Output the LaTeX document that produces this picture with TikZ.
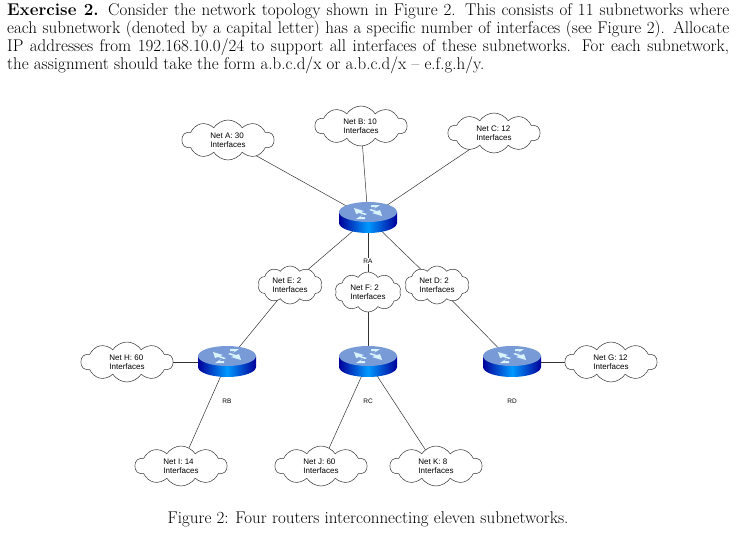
\documentclass[tikz,border=0pt]{standalone}
\usepackage{fontspec}
\newfontfamily\sansf{Liberation Sans}
\usetikzlibrary{shapes.symbols,shapes.geometric,backgrounds}
\begin{document}
\begin{tikzpicture}[x=1pt,y=-1pt,
  cloudn/.style={cloud,cloud puffs=10,cloud puff arc=115,aspect=2.1,draw=black!80,line width=0.5pt,fill=white,
     font=\sansf\fontsize{8}{8.8}\selectfont,align=left,inner sep=0pt,minimum width=#1,minimum height=40},
  cloudn/.default=92,
  rtr/.style={ellipse,minimum width=58,minimum height=36,inner sep=0},
  lbl/.style={font=\sansf\fontsize{6.5}{7}\selectfont,inner sep=1pt},
  wire/.style={draw=black!80,line width=0.5pt}]
\useasboundingbox (0,0) rectangle (736,535);
\node[anchor=north west,text width=722,align=justify,inner sep=0,font=\fontsize{17}{18}\selectfont] (txt) at (7,3)
{\textbf{Exercise 2.} Consider the network topology shown in Figure 2. This consists of 11 subnetworks where\linebreak
each subnetwork (denoted by a capital letter) has a specific number of interfaces (see Figure 2). Allocate\linebreak
IP addresses from 192.168.10.0/24 to support all interfaces of these subnetworks. For each subnetwork,\linebreak
the assignment should take the form a.b.c.d/x or a.b.c.d/x -- e.f.g.h/y.};
% routers
\foreach \r/\p in {RA/{368,218},RB/{227,362},RC/{368,362},RD/{512,362}}{
  \begin{scope}[shift={(\p)}]
    \shade[left color=blue!60!black,right color=blue!60!black,middle color=cyan!60!blue] (-29,-6) -- (-29,5) arc[start angle=180,end angle=0,x radius=29,y radius=10] -- (29,-6) -- cycle;
    \fill[cyan!45!blue!55] (0,-6) ellipse[x radius=29,y radius=10];
    \fill[white!85!cyan] (-14,-10) -- (-4,-7) -- (-7,-6) -- (-1,-4) -- (-3,-3) -- (-9,-5) -- (-12,-4) -- cycle;
    \fill[white!85!cyan] (14,-2) -- (4,-5) -- (7,-6) -- (1,-8) -- (3,-9) -- (9,-7) -- (12,-8) -- cycle;
    \fill[white!85!cyan] (-12,1) -- (-6,-3) -- (-8,-1) -- (-3,-1) -- (-3,1) -- cycle;
    \fill[white!85!cyan] (12,-13) -- (6,-9) -- (8,-11) -- (3,-11) -- (3,-13) -- cycle;
  \end{scope}}
\node[rtr] (RA) at (368,218) {};
\node[rtr] (RB) at (227,362) {};
\node[rtr] (RC) at (368,362) {};
\node[rtr] (RD) at (512,362) {};
% clouds
\node[cloudn] (A) at (228,140) {Net A: 30\\Interfaces};
\node[cloudn] (B) at (361,126) {Net B: 10\\Interfaces};
\node[cloudn] (C) at (494,133) {Net C: 12\\Interfaces};
\node[cloudn=64,minimum height=38] (E) at (290,285) {Net E: 2\\Interfaces};
\node[cloudn=66] (F) at (368,292) {Net F: 2\\Interfaces};
\node[cloudn=64,minimum height=38] (D) at (437,285) {Net D: 2\\Interfaces};
\node[cloudn] (H) at (127,362) {Net H: 60\\Interfaces};
\node[cloudn] (G) at (611,362) {Net G: 12\\Interfaces};
\node[cloudn] (I) at (181,466) {Net I: 14\\Interfaces};
\node[cloudn] (J) at (321,466) {Net J: 60\\Interfaces};
\node[cloudn] (K) at (436,466) {Net K: 8\\Interfaces};
\begin{scope}[on background layer]
\foreach \r/\c in {RA/A,RA/B,RA/C,RA/E,RA/F,RA/D,RB/E,RB/H,RB/I,RC/F,RC/J,RC/K,RD/D,RD/G}
  \path[wire] (\r.center) -- (\c.center);
\end{scope}
\node[lbl,fill=white] (la) at (368,261) {RA};
\node[lbl] (lb) at (227,401) {RB};
\node[lbl] (lc) at (368,401) {RC};
\node[lbl] (ld) at (512,401) {RD};
\node[font=\fontsize{17}{18}\selectfont,inner sep=0] (cap) at (368,519) {Figure 2: Four routers interconnecting eleven subnetworks.};
\end{tikzpicture}
\end{document}
